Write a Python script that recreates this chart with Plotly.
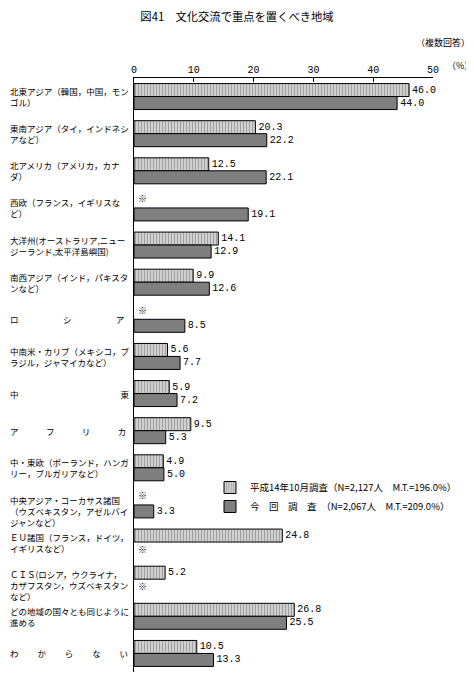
import plotly.graph_objects as go

categories = [
    "北東アジア（韓国，中国，モン<br>ゴル）",
    "東南アジア（タイ，インドネシ<br>アなど）",
    "北アメリカ（アメリカ，カナ<br>ダ）",
    "西欧（フランス，イギリスな<br>ど）",
    "大洋州(オーストラリア,ニュー<br>ジーランド,太平洋島嶼国)",
    "南西アジア（インド，パキスタ<br>ンなど）",
    "ロ　　　　　 シ　　　　　 ア",
    "中南米・カリブ（メキシコ，ブ<br>ラジル，ジャマイカなど）",
    "中　　　　　　　　　　　　東",
    "ア　　　 フ　　　 リ　　　 カ",
    "中・東欧（ポーランド，ハンガ<br>リー，ブルガリアなど）",
    "中央アジア・コーカサス諸国<br>（ウズベキスタン，アゼルバイ<br>ジャンなど）",
    "ＥＵ諸国（フランス，ドイツ，<br>イギリスなど）",
    "ＣＩＳ(ロシア，ウクライナ，<br>カザフスタン，ウズベキスタン<br>など）",
    "どの地域の国々とも同じように<br>進める",
    "わ　　 か　　 ら　　 な　　 い",
]
keys = [f"c{i}" for i in range(len(categories))]

prev_values = [46.0, 20.3, 12.5, None, 14.1, 9.9, None, 5.6, 5.9, 9.5, 4.9, None, 24.8, 5.2, 26.8, 10.5]
curr_values = [44.0, 22.2, 22.1, 19.1, 12.9, 12.6, 8.5, 7.7, 7.2, 5.3, 5.0, 3.3, None, None, 25.5, 13.3]

prev_name = "平成14年10月調査（N=2,127人　M.T.=196.0%）"
curr_name = "今　回　調　査　（N=2,067人　M.T.=209.0%）"
x_ticks = [0, 10, 20, 30, 40, 50]

FONT = "Noto Sans CJK JP"
NUMFONT = "Liberation Mono"

# page body has an 8px margin: lay out in reference pixels minus that offset
OFF = 8
W, H = 474 - OFF, 687 - OFF
L = 134 - OFF
R = W - (433 - OFF)
T = 78 - OFF
B = H - (672 - OFF)
pw, ph = W - L - R, H - T - B


def px_to_paper(xp, yp):
    return (xp - OFF - L) / pw, (H - B - (yp - OFF)) / ph


fig = go.Figure()
fig.add_trace(go.Bar(
    y=keys, x=prev_values, orientation="h", name=prev_name,
    marker=dict(color="#c4c4c4", line=dict(color="#000000", width=1),
                pattern=dict(shape="|", fgcolor="#707070", bgcolor="#d0d0d0", size=3, solidity=0.35)),
    texttemplate="%{x:.1f}", textposition="outside", cliponaxis=False,
    textfont=dict(size=10, color="#000", family=NUMFONT),
))
fig.add_trace(go.Bar(
    y=keys, x=curr_values, orientation="h", name=curr_name,
    marker=dict(color="#7f7f7f", line=dict(color="#000000", width=1)),
    texttemplate="%{x:.1f}", textposition="outside", cliponaxis=False,
    textfont=dict(size=10, color="#000", family=NUMFONT),
))

annotations = []
for k, lab in zip(keys, categories):
    nlines = lab.count("<br>") + 1
    annotations.append(dict(
        x=0, xref="paper", xshift=-L, y=k, yref="y",
        text=lab, showarrow=False, xanchor="left", align="left",
        yanchor="middle", yshift=(-6 if nlines == 3 else 0),
        font=dict(size=8.5, family=FONT, color="#000"),
    ))
# missing-data markers
for k, a, b in zip(keys, prev_values, curr_values):
    if a is None:
        annotations.append(dict(x=0, y=k, xref="x", yref="y", text="※", showarrow=False,
                                xanchor="left", xshift=2, yshift=9,
                                font=dict(size=9, family=FONT, color="#000")))
    if b is None:
        annotations.append(dict(x=0, y=k, xref="x", yref="y", text="※", showarrow=False,
                                xanchor="left", xshift=2, yshift=-7,
                                font=dict(size=9, family=FONT, color="#000")))

ax, ay = px_to_paper(445, 65)
annotations.append(dict(x=ax, y=ay, xref="paper", yref="paper", text="（%）", showarrow=False,
                        xanchor="left", yanchor="middle", font=dict(size=9, family=FONT, color="#000")))
bx, by = px_to_paper(472, 42)
annotations.append(dict(x=bx, y=by, xref="paper", yref="paper", text="（複数回答）", showarrow=False,
                        xanchor="right", yanchor="middle", font=dict(size=9, family=FONT, color="#000")))

lx, ly = px_to_paper(210, 473)

fig.update_layout(
    width=W, height=H,
    margin=dict(l=L, r=R, t=T, b=B),
    paper_bgcolor="white", plot_bgcolor="white",
    title=dict(text="図41　文化交流で重点を置くべき地域", x=(237 - OFF) / W, xanchor="center",
               y=1 - (17 - OFF) / H, yref="container", yanchor="middle",
               font=dict(size=11.3, family=FONT, color="#000")),
    barmode="group", bargap=0.3, bargroupgap=0,
    showlegend=True,
    legend=dict(x=lx, y=ly, xanchor="left", yanchor="top", traceorder="normal",
                font=dict(size=9.5, family=FONT, color="#000"), bgcolor="rgba(0,0,0,0)",
                tracegroupgap=0),
    xaxis=dict(side="top", range=[0, 50], tickvals=x_ticks, ticktext=[str(v) for v in x_ticks],
               showgrid=False, zeroline=False, showline=True, linecolor="#000", linewidth=1,
               ticks="inside", ticklen=4, tickcolor="#000",
               tickfont=dict(size=10, family=NUMFONT, color="#000")),
    yaxis=dict(autorange="reversed", showticklabels=False, showgrid=False, zeroline=False,
               showline=True, linecolor="#000", linewidth=1, ticks=""),
    annotations=annotations,
    font=dict(family=FONT),
)

fig.write_html("out.html")
